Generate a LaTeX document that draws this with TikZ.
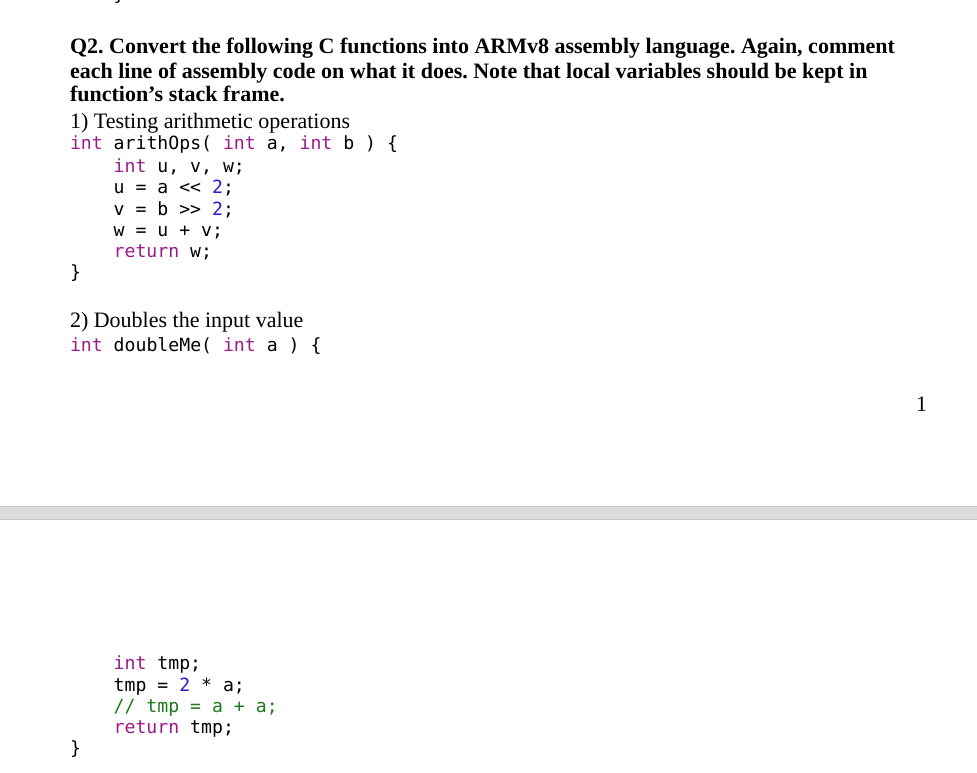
\documentclass[tikz,border=0pt]{standalone}
\usepackage{fontspec}
\setmainfont{Liberation Serif}
\newfontfamily\codefont{DejaVu Sans Mono}
\definecolor{kw}{HTML}{9B1A8C}
\definecolor{num}{HTML}{2A1ACF}
\definecolor{cmt}{HTML}{1A7A1A}
\definecolor{barfill}{HTML}{DCDCDE}
\definecolor{barline}{HTML}{C6C6C8}
\newcommand{\kw}[1]{\textcolor{kw}{#1}}
\newcommand{\nm}[1]{\textcolor{num}{#1}}
\frenchspacing
\begin{document}
\begin{tikzpicture}[x=1pt,y=-1pt,
  every node/.style={anchor=base west, inner sep=0pt, outer sep=0pt},
  titletext/.style={font=\fontsize{22}{25}\selectfont\bfseries},
  bodytext/.style={font=\fontsize{22}{24}\selectfont},
  codetext/.style={font=\fontsize{18.16}{21}\codefont}]
\useasboundingbox (0,0) rectangle (977,773);
\fill[white] (0,0) rectangle (977,773);
% clipped brace from previous page part
\node[codetext] (top) at (113.7,0.5) {\}};
% title
\node[titletext] (t1) at (70,53.3) {Q2. Convert the following C functions into ARMv8 assembly language. Again, comment};
\node[titletext] (t2) at (70,78.3) {each line of assembly code on what it does. Note that local variables should be kept in};
\node[titletext] (t3) at (70,101.7) {function’s stack frame.};
% part 1
\node[bodytext] (s1) at (70,128.3) {1) Testing arithmetic operations};
\node[codetext] (c1) at (70,149.3) {\kw{int} arithOps( \kw{int} a, \kw{int} b ) \{};
\node[codetext] (c2) at (113.7,172.5) {\kw{int} u, v, w;};
\node[codetext] (c3) at (113.7,193.5) {u = a << \nm{2};};
\node[codetext] (c4) at (113.7,215) {v = b >> \nm{2};};
\node[codetext] (c5) at (113.7,236.5) {w = u + v;};
\node[codetext] (c6) at (113.7,257.5) {\kw{return} w;};
\node[codetext] (c7) at (70,278.5) {\}};
% part 2
\node[bodytext] (s2) at (70,327.5) {2) Doubles the input value};
\node[codetext] (d1) at (70,351) {\kw{int} doubleMe( \kw{int} a ) \{};
% page number
\node[bodytext] (pg) at (916,411) {1};
% page break bar
\fill[barfill] (-1,506) rectangle (978,519);
\draw[barline] (-1,506) -- (978,506);
\draw[barline] (-1,519) -- (978,519);
% continuation
\node[codetext] (e1) at (113.7,669.3) {\kw{int} tmp;};
\node[codetext] (e2) at (113.7,691) {tmp = \nm{2} * a;};
\node[codetext] (e3) at (113.7,712.5) {\textcolor{cmt}{// tmp = a + a;}};
\node[codetext] (e4) at (113.7,733.5) {\kw{return} tmp;};
\node[codetext] (e5) at (70,754.5) {\}};
\end{tikzpicture}
\end{document}
